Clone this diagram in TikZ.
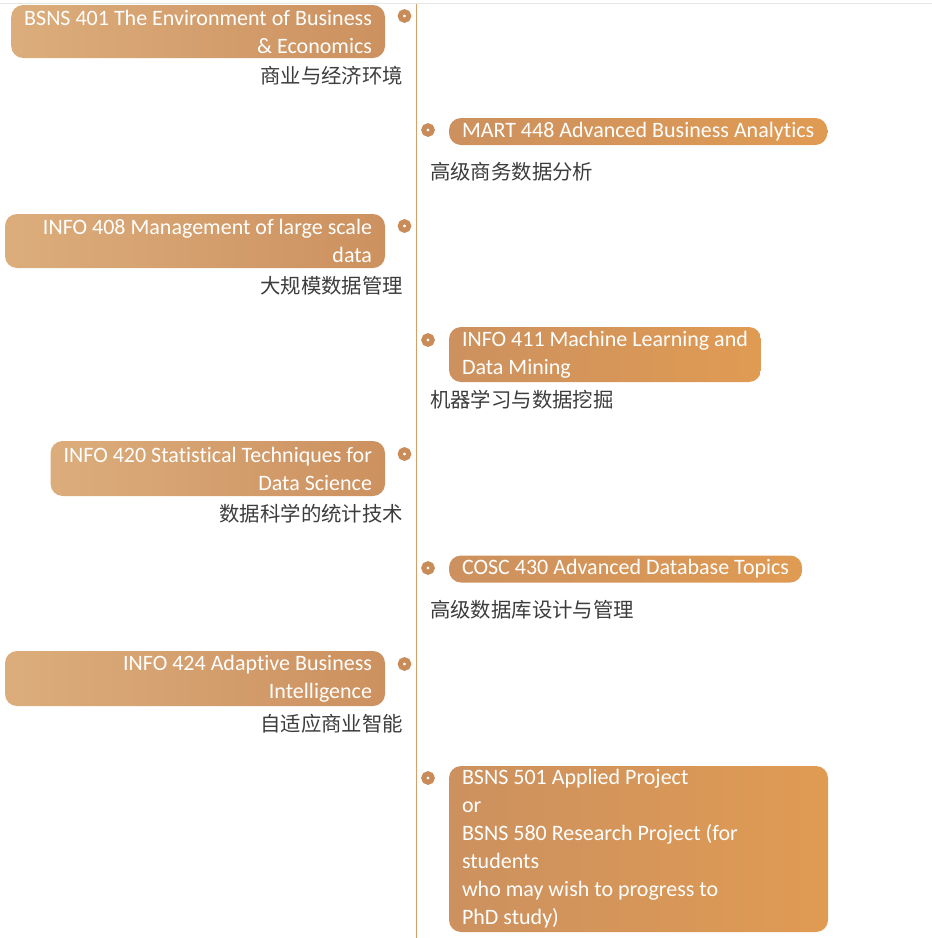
\documentclass[tikz,border=0pt]{standalone}
\usepackage{fontspec}
\setmainfont{Carlito}[RawFeature={-liga;-calt;-dlig}]
\newfontfamily\cjk{Noto Sans CJK SC}
\definecolor{tanlight}{RGB}{220,173,124}
\definecolor{tandark}{RGB}{204,145,95}
\definecolor{orangebox}{RGB}{224,155,83}
\definecolor{linecol}{RGB}{214,160,104}
\definecolor{dotcol}{RGB}{201,139,88}
\definecolor{cntext}{RGB}{60,60,60}
\definecolor{topline}{RGB}{230,230,230}

\begin{document}
\begin{tikzpicture}[x=1pt,y=-1pt,
  every node/.style={outer sep=0pt},
  box/.style={rounded corners=12pt, text=white, inner xsep=13pt, inner ysep=0pt,
    font=\fontsize{22}{28}\selectfont},
  leftbox/.style={box, left color=tanlight, right color=tandark, align=flush right, anchor=east},
  rightbox/.style={box, left color=tandark, right color=orangebox, align=flush left, anchor=west},
  cnleft/.style={font=\cjk\fontsize{20.4}{24}\selectfont, text=cntext, inner sep=0pt, anchor=east},
  cnright/.style={cnleft, anchor=west},
  dot/.style={circle, draw=dotcol, line width=5pt, fill=white, minimum size=8.5pt, inner sep=0pt}]
            \useasboundingbox (0,0) rectangle (932,938);
            \coordinate (tl) at (0,3);
            \coordinate (tr) at (932,3);
            \draw[topline, line width=1pt] (tl) -- (tr);
            \coordinate (top) at (416.3,4);
            \coordinate (bottom) at (416.3,938);
            \draw[linecol, line width=1.5pt] (top) -- (bottom);
            % left side
            \node[leftbox, minimum height=53pt] (b401) at (385,31.5) {BSNS 401 The Environment of Business\\\& Economics};
            \node[cnleft] (c401) at (403,76) {商业与经济环境};
            \node[dot] (d401) at (404.5,16) {};
            \node[leftbox, text width=354pt, minimum height=54pt] (i408) at (385,241) {INFO 408 Management of large scale\\data};
            \node[cnleft] (c408) at (403,286) {大规模数据管理};
            \node[dot] (d408) at (404.5,226) {};
            \node[leftbox, minimum height=55pt] (i420) at (385,468.5) {INFO 420 Statistical Techniques for\\Data Science};
            \node[cnleft] (c420) at (403,514) {数据科学的统计技术};
            \node[dot] (d420) at (404.5,454) {};
            \node[leftbox, text width=354pt, minimum height=55pt] (i424) at (385,678.5) {INFO 424 Adaptive Business\\Intelligence};
            \node[cnleft] (c424) at (403,724) {自适应商业智能};
            \node[dot] (d424) at (404.5,664) {};
            % right side
            \node[rightbox, minimum height=27pt] (m448) at (449,131.5) {MART 448 Advanced Business Analytics};
            \node[cnright] (c448) at (430,172) {高级商务数据分析};
            \node[dot] (d448) at (428,130) {};
            \node[rightbox, minimum height=55pt] (i411) at (449,354.5) {INFO 411 Machine Learning and\\Data Mining};
            \node[cnright] (c411) at (430,400) {机器学习与数据挖掘};
            \node[dot] (d411) at (428,340) {};
            \node[rightbox, minimum height=27pt] (c430) at (449,569) {COSC 430 Advanced Database Topics};
            \node[cnright] (cc430) at (430,610) {高级数据库设计与管理};
            \node[dot] (d430) at (428,568) {};
            \node[rightbox, text width=353pt, minimum height=166pt] (b501) at (449,849) {BSNS 501 Applied Project\\or\\BSNS 580 Research Project (for\\students\\who may wish to progress to\\PhD study)};
            \node[dot] (d501) at (428,778) {};
        \end{tikzpicture}
\end{document}
